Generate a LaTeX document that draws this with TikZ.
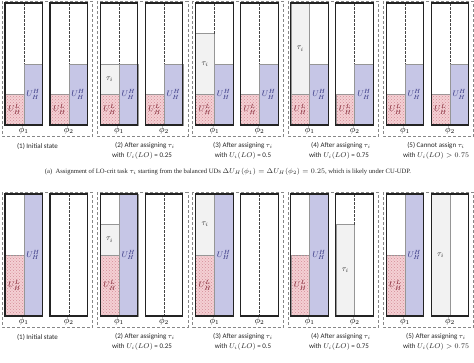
\documentclass[tikz,border=0pt]{standalone}
\usepackage{fontspec}
\newfontfamily\capfont{Carlito}
\newfontfamily\serifcap{Liberation Serif}
\usetikzlibrary{patterns}
\definecolor{ulpink}{RGB}{244,208,212}
\definecolor{uldot}{RGB}{212,140,150}
\definecolor{uhblue}{RGB}{198,198,230}
\definecolor{taugray}{RGB}{242,242,242}
\definecolor{regline}{RGB}{150,150,150}
\definecolor{boxgray}{RGB}{135,135,135}
\definecolor{barline}{RGB}{35,35,35}
\definecolor{divline}{RGB}{70,70,70}
\definecolor{ultext}{RGB}{125,30,45}
\definecolor{uhtext}{RGB}{45,45,125}
\tikzset{
  regionbox/.style={draw=regline, line width=0.5pt},
  outline/.style={draw=barline, line width=1.1pt},
  divider/.style={draw=divline, dash pattern=on 2.5pt off 1.5pt, line width=0.45pt},
  panelbox/.style={draw=boxgray, dash pattern=on 3pt off 2pt, line width=0.6pt},
  ullab/.style={text=ultext, font=\fontsize{8}{9}\selectfont, inner sep=0pt},
  uhlab/.style={text=uhtext, font=\fontsize{8}{9}\selectfont, inner sep=0pt},
  taulab/.style={text=black!80, font=\fontsize{8}{9}\selectfont, inner sep=0pt},
  philab/.style={font=\fontsize{9}{10}\selectfont, inner sep=0pt},
  caplab/.style={font=\capfont\fontsize{7}{8}\selectfont, inner sep=0pt, text=black!85},
}
% #1 name, #2 left x, #3 top y, #4 UL frac, #5 UH frac, #6 tau frac
\newcommand{\cpubar}[6]{%
  \pgfmathsetmacro{\cbxl}{#2}%
  \pgfmathsetmacro{\cbxm}{#2+18.75}%
  \pgfmathsetmacro{\cbxr}{#2+37.5}%
  \pgfmathsetmacro{\cbxlc}{#2+9.375}%
  \pgfmathsetmacro{\cbxrc}{#2+28.125}%
  \pgfmathsetmacro{\cbyt}{#3}%
  \pgfmathsetmacro{\cbyb}{#3+122}%
  \pgfmathsetmacro{\cbyul}{\cbyb-122*#4}%
  \pgfmathsetmacro{\cbytau}{\cbyul-122*#6}%
  \pgfmathsetmacro{\cbyuh}{\cbyb-122*#5}%
  \pgfmathsetmacro{\cbydash}{min(\cbytau,\cbyuh)}%
  \fill[white] (\cbxl,\cbyt) rectangle (\cbxr,\cbyb);
  \ifdim #4pt>0pt
    \path[regionbox, fill=ulpink] (\cbxl,\cbyul) rectangle (\cbxm,\cbyb);
    \fill[pattern=crosshatch dots, pattern color=uldot] (\cbxl,\cbyul) rectangle (\cbxm,\cbyb);
    \node[ullab] (#1-ul) at (\cbxlc,{(\cbyul+\cbyb)/2}) {$U_H^L$};
  \fi
  \ifdim #6pt>0pt
    \path[regionbox, fill=taugray] (\cbxl,\cbytau) rectangle (\cbxm,\cbyul);
    \node[taulab] (#1-tau) at (\cbxlc,{(\cbytau+\cbyul)/2}) {$\tau_i$};
  \fi
  \ifdim #5pt>0pt
    \path[regionbox, fill=uhblue] (\cbxm,\cbyuh) rectangle (\cbxr,\cbyb);
    \node[uhlab] (#1-uh) at (\cbxrc,{(\cbyuh+\cbyb)/2}) {$U_H^H$};
  \fi
  \ifdim \cbydash pt>\cbyt pt
    \draw[divider] (\cbxm,\cbyt) -- (\cbxm,\cbydash);
  \fi
  \draw[outline] (\cbxl,\cbyt) rectangle (\cbxr,\cbyb);
}
% #1 panel index (1..5), #2 row top y, bar args
\newcommand{\panelpair}[8]{%
  \pgfmathsetmacro{\pnX}{95.3*(#1-1)}%
  \pgfmathsetmacro{\pnA}{\pnX+5}%
  \pgfmathsetmacro{\pnB}{\pnX+50}%
  \pgfmathsetmacro{\pnL}{\pnX+2}%
  \pgfmathsetmacro{\pnR}{\pnX+92.5}%
  \pgfmathsetmacro{\pnT}{#2-2}%
  \pgfmathsetmacro{\pnBot}{#2+133}%
  \pgfmathsetmacro{\pnPy}{#2+127.5}%
  \pgfmathsetmacro{\pnAc}{\pnX+23.75}%
  \pgfmathsetmacro{\pnBc}{\pnX+68.75}%
  \draw[panelbox] (\pnL,\pnT) rectangle (\pnR,\pnBot);
  \cpubar{r#2p#1a}{\pnA}{#2}{#3}{#4}{#5}
  \cpubar{r#2p#1b}{\pnB}{#2}{#6}{#7}{#8}
  \node[philab] (r#2p#1phia) at (\pnAc,\pnPy) {$\phi_1$};
  \node[philab] (r#2p#1phib) at (\pnBc,\pnPy) {$\phi_2$};
}
\begin{document}
\begin{tikzpicture}[x=1pt,y=-1pt]
\useasboundingbox (0,0) rectangle (474,362);
\fill[white] (0,0) rectangle (474,362);
% ---- top row ----
\panelpair{1}{3}{0.25}{0.5}{0}{0.25}{0.5}{0}
\panelpair{2}{3}{0.25}{0.5}{0.25}{0.25}{0.5}{0}
\panelpair{3}{3}{0.25}{0.5}{0.5}{0.25}{0.5}{0}
\panelpair{4}{3}{0.25}{0.5}{0.75}{0.25}{0.5}{0}
\panelpair{5}{3}{0.25}{0.5}{0}{0.25}{0.5}{0}
\node[caplab] (t1c) at (37.5,146) {(1) Initial state};
\node[caplab] (t2c) at (145,146) {(2) After assigning $\tau_i$};
\node[caplab] (t2d) at (142,155.5) {with $U_i(LO)$ = 0.25};
\node[caplab] (t3c) at (243,146) {(3) After assigning $\tau_i$};
\node[caplab] (t3d) at (243,155.5) {with $U_i(LO)$ = 0.5};
\node[caplab] (t4c) at (341,146) {(4) After assigning $\tau_i$};
\node[caplab] (t4d) at (339,155.5) {with $U_i(LO)$ = 0.75};
\node[caplab] (t5c) at (436,146) {(5) Cannot assign $\tau_i$};
\node[caplab] (t5d) at (436,155.5) {with $U_i(LO) > 0.75$};
\node[inner sep=0pt, font=\serifcap\fontsize{6.6}{8}\selectfont, text=black!85] (capa) at (228,172)
  {(a)\ \ Assignment of LO-crit task $\tau_i$ starting from the balanced UDs $\Delta U_H(\phi_1) = \Delta U_H(\phi_2) = 0.25$, which is likely under CU-UDP.};
% ---- bottom row ----
\panelpair{1}{194}{0.5}{1}{0}{0}{0}{0}
\panelpair{2}{194}{0.5}{1}{0.25}{0}{0}{0}
\panelpair{3}{194}{0.5}{1}{0.5}{0}{0}{0}
\panelpair{4}{194}{0.5}{1}{0}{0}{0}{0.75}
\panelpair{5}{194}{0.5}{1}{0}{0}{0}{1}
\node[caplab] (b1c) at (37.5,337) {(1) Initial state};
\node[caplab] (b2c) at (145,337) {(2) After assigning $\tau_i$};
\node[caplab] (b2d) at (142,346.5) {with $U_i(LO)$ = 0.25};
\node[caplab] (b3c) at (243,337) {(3) After assigning $\tau_i$};
\node[caplab] (b3d) at (243,346.5) {with $U_i(LO)$ = 0.5};
\node[caplab] (b4c) at (341,337) {(4) After assigning $\tau_i$};
\node[caplab] (b4d) at (339,346.5) {with $U_i(LO)$ = 0.75};
\node[caplab] (b5c) at (436,337) {(5) After assigning $\tau_i$};
\node[caplab] (b5d) at (436,346.5) {with $U_i(LO) > 0.75$};
\end{tikzpicture}
\end{document}
